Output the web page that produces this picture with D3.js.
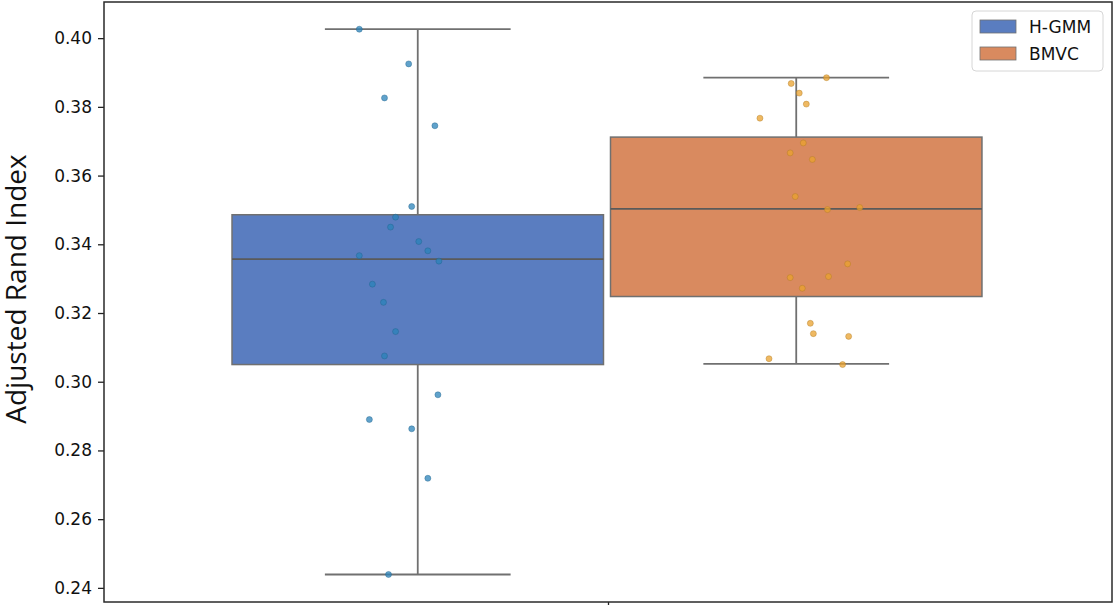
<!DOCTYPE html>
<html>
<head>
<meta charset="utf-8">
<script src="https://cdn.jsdelivr.net/npm/d3@7"></script>
<style>
  html, body { margin: 0; padding: 0; background: #fff; }
  svg { display: block; }
</style>
</head>
<body>
<div id="viz"></div>
<script>
// groups (hue levels) and colours
const groups = ["H-GMM", "BMVC"];
const boxColors = ["#5a7dc0", "#d98a5f"];
const dotColors = ["#2b83ba", "#eaa22e"];

// box statistics: [low whisker, Q1, median, Q3, high whisker]
const boxStats = [
  [0.2439, 0.3050, 0.3357, 0.3486, 0.4026],
  [0.3052, 0.3248, 0.3503, 0.3712, 0.3885]
];

// individual runs (strip points) and their horizontal jitter (x-axis units)
const hgmmValues = [0.4026, 0.3925, 0.3826, 0.3745, 0.3510, 0.3479, 0.3450, 0.3408, 0.3381, 0.3367,
                    0.3351, 0.3284, 0.3231, 0.3146, 0.3075, 0.2962, 0.2890, 0.2863, 0.2719, 0.2439];
const hgmmJitter = [-0.058, -0.009, -0.033, 0.017, -0.006, -0.022, -0.027, 0.001, 0.010, -0.058,
                    0.021, -0.045, -0.034, -0.022, -0.033, 0.020, -0.048, -0.006, 0.010, -0.029];
const bmvcValues = [0.3885, 0.3868, 0.3840, 0.3808, 0.3767, 0.3695, 0.3666, 0.3647, 0.3539, 0.3501,
                    0.3507, 0.3343, 0.3303, 0.3306, 0.3272, 0.3170, 0.3140, 0.3132, 0.3067, 0.3050];
const bmvcJitter = [0.030, -0.005, 0.003, 0.010, -0.036, 0.007, -0.006, 0.016, -0.001, 0.031,
                    0.063, 0.051, -0.006, 0.032, 0.006, 0.014, 0.017, 0.052, -0.027, 0.046];

const yTicks = [0.24, 0.26, 0.28, 0.30, 0.32, 0.34, 0.36, 0.38, 0.40];

const W = 1115, H = 606;
const margin = { top: 2, right: 3, bottom: 4, left: 104 };

const svg = d3.select("#viz").append("svg")
    .attr("width", W)
    .attr("height", H);

// scales
const x = d3.scaleLinear()
    .domain([-0.5, 0.5])
    .range([margin.left, W - margin.right]);

const hue = d3.scaleBand()
    .domain(groups)
    .range([x(-0.373), x(0.371)])
    .paddingInner(0.0185);

const y = d3.scaleLinear()
    .domain([0.23589, 0.41052])
    .range([H - margin.bottom, margin.top]);

// y axis
const yAxis = svg.append("g")
    .attr("transform", `translate(${margin.left},0)`)
    .call(d3.axisLeft(y).tickValues(yTicks).tickFormat(d3.format(".2f")).tickSize(6).tickPadding(6));
yAxis.select(".domain").remove();
yAxis.selectAll(".tick line").attr("stroke", "#222").attr("stroke-width", 1.3);
yAxis.selectAll(".tick text")
    .attr("fill", "#111")
    .attr("font-family", "DejaVu Sans")
    .attr("font-size", 17);

// x axis: single category tick, no label
const xAxis = svg.append("g")
    .attr("transform", `translate(0,${H - margin.bottom})`)
    .call(d3.axisBottom(x).tickValues([0]).tickFormat("").tickSize(3));
xAxis.select(".domain").remove();
xAxis.selectAll(".tick line").attr("stroke", "#222").attr("stroke-width", 1.3);

// y label
svg.append("text")
    .attr("transform", `translate(26,${(margin.top + H - margin.bottom) / 2 - 13}) rotate(-90)`)
    .attr("text-anchor", "middle")
    .attr("font-family", "Open Sans")
    .attr("font-size", 28)
    .attr("fill", "#111")
    .text("Adjusted Rand Index");

// boxes
const lineColor = "#707070";
groups.forEach((g, i) => {
    const [lo, q1, med, q3, hi] = boxStats[i];
    const x0 = hue(g), bw = hue.bandwidth();
    const xc = x0 + bw / 2;
    const box = svg.append("g");

    // whiskers
    box.append("line")
        .attr("x1", xc).attr("x2", xc)
        .attr("y1", y(q3)).attr("y2", y(hi))
        .attr("stroke", lineColor).attr("stroke-width", 1.8);
    box.append("line")
        .attr("x1", xc).attr("x2", xc)
        .attr("y1", y(q1)).attr("y2", y(lo))
        .attr("stroke", lineColor).attr("stroke-width", 1.8);

    // caps (half box width)
    [lo, hi].forEach(v => {
        box.append("line")
            .attr("x1", xc - bw / 4).attr("x2", xc + bw / 4)
            .attr("y1", y(v)).attr("y2", y(v))
            .attr("stroke", lineColor).attr("stroke-width", 1.8);
    });

    box.append("rect")
        .attr("x", x0)
        .attr("y", y(q3))
        .attr("width", bw)
        .attr("height", y(q1) - y(q3))
        .attr("fill", boxColors[i])
        .attr("stroke", lineColor)
        .attr("stroke-width", 1.5);

    box.append("line")
        .attr("x1", x0).attr("x2", x0 + bw)
        .attr("y1", y(med)).attr("y2", y(med))
        .attr("stroke", "#5a5a5a").attr("stroke-width", 1.8);
});

// strip points
const series = [
    { g: groups[0], values: hgmmValues, jitter: hgmmJitter, color: dotColors[0] },
    { g: groups[1], values: bmvcValues, jitter: bmvcJitter, color: dotColors[1] }
];
series.forEach(s => {
    const xc = hue(s.g) + hue.bandwidth() / 2;
    svg.append("g").selectAll("circle")
        .data(s.values)
        .join("circle")
        .attr("cx", (d, j) => xc + (x(s.jitter[j]) - x(0)))
        .attr("cy", d => y(d))
        .attr("r", 3)
        .attr("fill", s.color)
        .attr("fill-opacity", 0.75)
        .attr("stroke", d3.color(s.color).darker(0.8))
        .attr("stroke-opacity", 0.6)
        .attr("stroke-width", 0.7);
});

// frame
svg.append("rect")
    .attr("x", margin.left)
    .attr("y", margin.top)
    .attr("width", W - margin.right - margin.left)
    .attr("height", H - margin.bottom - margin.top)
    .attr("fill", "none")
    .attr("stroke", "#2a2a2a")
    .attr("stroke-width", 1.5);

// legend
const legend = svg.append("g").attr("transform", "translate(972,11)");
legend.append("rect")
    .attr("width", 131).attr("height", 60)
    .attr("rx", 4)
    .attr("fill", "#fff").attr("fill-opacity", 0.85)
    .attr("stroke", "#d6d6d6").attr("stroke-width", 1);
groups.forEach((g, i) => {
    const row = legend.append("g").attr("transform", `translate(8,${9 + i * 27})`);
    row.append("rect")
        .attr("width", 36).attr("height", 13)
        .attr("fill", boxColors[i])
        .attr("stroke", lineColor).attr("stroke-width", 0.8);
    row.append("text")
        .attr("x", 49).attr("y", 12.5)
        .attr("font-family", "DejaVu Sans")
        .attr("font-size", 17)
        .attr("fill", "#111")
        .text(g);
});
</script>
</body>
</html>
